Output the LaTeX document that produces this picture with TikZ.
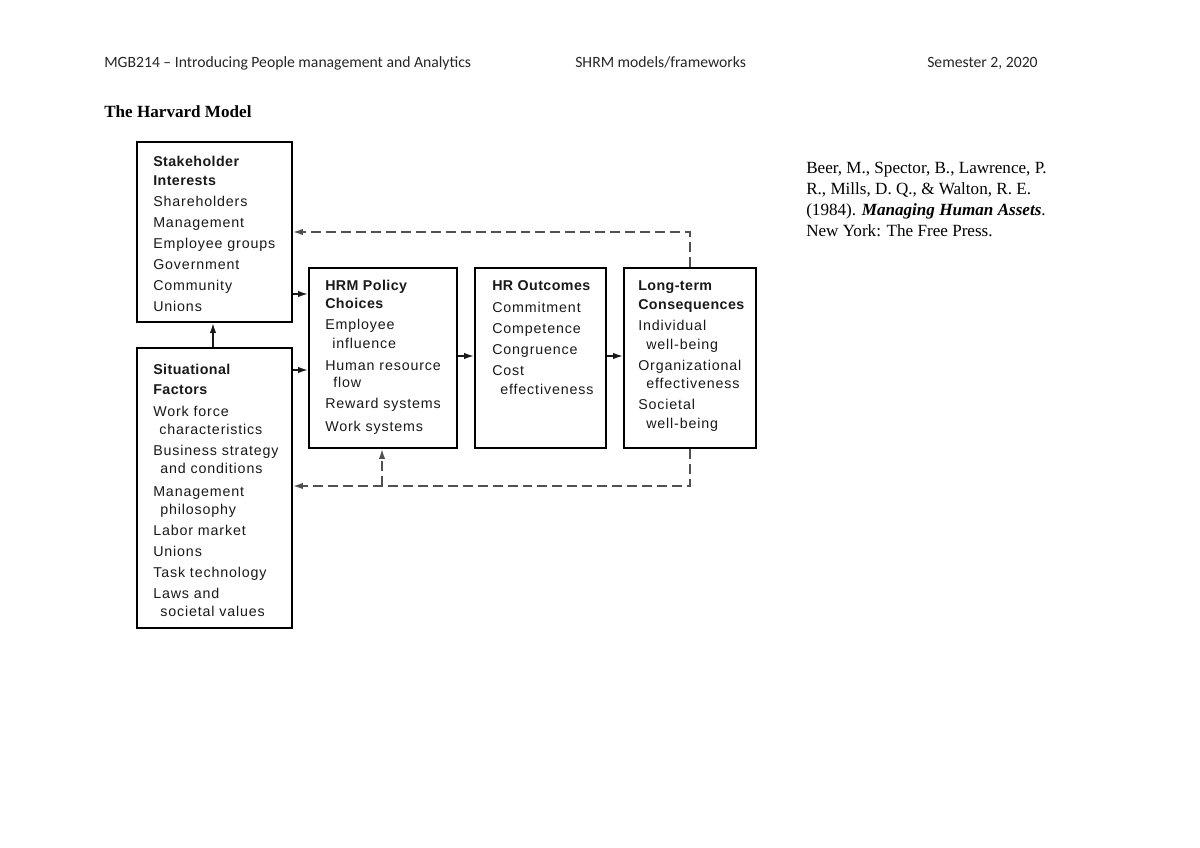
\documentclass[tikz,border=0pt]{standalone}
\usepackage{fontspec}
\setmainfont{Liberation Serif}
\newfontfamily\hdrfont{Carlito}
\newfontfamily\diagfont[LetterSpace=6, BoldFeatures={LetterSpace=3}]{Liberation Sans}
\usetikzlibrary{arrows.meta,fit}
\definecolor{dashgray}{RGB}{80,80,80}
\tikzset{
  box/.style={draw=black, line width=1.4pt, inner sep=0pt, fill=none},
  txt/.style={anchor=base west, inner sep=0pt, font=\diagfont\fontsize{10}{12}\selectfont, text=black!90},
  hdr/.style={anchor=base west, inner sep=0pt, font=\hdrfont\fontsize{11}{13}\selectfont, text=black!85},
  reftxt/.style={anchor=base west, inner sep=0pt, font=\fontsize{12}{14}\selectfont, text=black},
  arr/.style={line width=1.1pt, black!90, -{Latex[length=7pt,width=4.5pt]}},
  darr/.style={line width=1.1pt, dashgray, dash pattern=on 7pt off 3.5pt, -{Latex[length=7pt,width=4.5pt]}},
}
\begin{document}
\begin{tikzpicture}[x=0.7017pt,y=-0.7017pt]
\useasboundingbox[fill=white] (0,0) rectangle (1200,848);

% header
\node[hdr] (h1) at (104,68) {MGB214 – Introducing People management and Analytics};
\node[hdr] (h2) at (575,68) {SHRM models/frameworks};
\node[hdr] (h3) at (927,68) {Semester 2, 2020};
\node[anchor=base west, inner sep=0pt, font=\bfseries\fontsize{12}{14}\selectfont] (title) at (104,118) {The Harvard Model};

% reference
\node[reftxt] (r1) at (806,174) {Beer, M., Spector, B., Lawrence, P.};
\node[reftxt] (r2) at (806,195) {R., Mills, D. Q., \& Walton, R. E.};
\node[reftxt] (r3) at (806,216) {(1984). \textbf{\textit{Managing Human Assets}}.};
\node[reftxt] (r4) at (806,237) {New York: The Free Press.};

% box corners
\coordinate (sh1) at (137,142); \coordinate (sh2) at (292,322);
\coordinate (si1) at (137,348); \coordinate (si2) at (292,628);
\coordinate (hp1) at (309,268); \coordinate (hp2) at (457,448);
\coordinate (ho1) at (475,268); \coordinate (ho2) at (606,448);
\coordinate (lt1) at (624,268); \coordinate (lt2) at (756,448);

\node[box, fit=(sh1)(sh2)] (sh) {};
\node[box, fit=(si1)(si2)] (si) {};
\node[box, fit=(hp1)(hp2)] (hp) {};
\node[box, fit=(ho1)(ho2)] (ho) {};
\node[box, fit=(lt1)(lt2)] (lt) {};

% texts: stakeholder
\foreach \xx/\yy/\t [count=\i] in {
  153/167/\textbf{Stakeholder}, 153/185.5/\textbf{Interests},
  153/206.5/Shareholders, 153/227.5/Management, 153/248.5/Employee groups,
  153/269.5/Government, 153/290.5/Community, 153/311.5/Unions}
  \node[txt] (st\i) at (\xx,\yy) {\t};

% situational
\foreach \xx/\yy/\t [count=\i] in {
  153/375/\textbf{Situational}, 153/394/\textbf{Factors},
  153/416/Work force, 159/434/characteristics,
  153/455/Business strategy, 160/473.5/and conditions,
  153/496/Management, 160/514/philosophy,
  153/535/Labor market, 153/556/Unions, 153/577/Task technology,
  153/598/Laws and, 160/616.5/societal values}
  \node[txt] (sf\i) at (\xx,\yy) {\t};

% HRM policy
\foreach \xx/\yy/\t [count=\i] in {
  325/291/\textbf{HRM Policy}, 325/308.5/\textbf{Choices},
  325/330/Employee, 332/348.5/influence,
  325/370/Human resource, 333/388/flow,
  325/409/Reward systems, 325/431/Work systems}
  \node[txt] (hx\i) at (\xx,\yy) {\t};

% HR outcomes
\foreach \xx/\yy/\t [count=\i] in {
  492/291/\textbf{HR Outcomes},
  492/313/Commitment, 492/334/Competence, 492/354.5/Congruence,
  492/375.5/Cost, 500/394.5/effectiveness}
  \node[txt] (ox\i) at (\xx,\yy) {\t};

% long-term
\foreach \xx/\yy/\t [count=\i] in {
  638/291/\textbf{Long-term}, 638/309.5/\textbf{Consequences},
  638/330.5/Individual, 646/349.5/well-being,
  638/370/Organizational, 646/389/effectiveness,
  638/409.5/Societal, 646/428.5/well-being}
  \node[txt] (lx\i) at (\xx,\yy) {\t};

% connector levels
\coordinate (ya) at (0,294);
\coordinate (yb) at (0,370);
\coordinate (yc) at (0,356);
\coordinate (xup) at (213,0);
\coordinate (ytop) at (690,232);
\coordinate (ybot) at (690,486);
\coordinate (xbr) at (382,486);

% solid arrows
\draw[arr] (sh.east |- ya) -- (hp.west |- ya);
\draw[arr] (si.east |- yb) -- (hp.west |- yb);
\draw[arr] (hp.east |- yc) -- (ho.west |- yc);
\draw[arr] (ho.east |- yc) -- (lt.west |- yc);
\draw[arr] (xup |- si.north) -- (xup |- sh.south);

% dashed feedback
\draw[darr] (lt.north -| ytop) -- (ytop) -- (sh.east |- ytop);
\draw[darr] (lt.south -| ybot) -- (ybot) -- (si.east |- ybot);
\draw[darr] (xbr) -- (xbr |- hp.south);
\end{tikzpicture}
\end{document}
